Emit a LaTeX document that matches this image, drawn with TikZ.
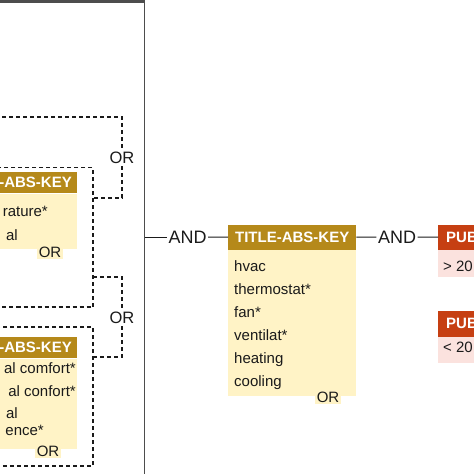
\documentclass[tikz,border=0pt]{standalone}
\usepackage{fontspec}
\setmainfont{Liberation Sans}
\usetikzlibrary{positioning}
\definecolor{ink}{HTML}{1A1A1A}
\definecolor{gold}{HTML}{B5891A}
\definecolor{cream}{HTML}{FFF3C6}
\definecolor{brick}{HTML}{C63F12}
\definecolor{blush}{HTML}{FBE2DE}
\definecolor{slate}{HTML}{4D4D4D}

\begin{document}
\begin{tikzpicture}[x=1pt, y=-1pt,
    every node/.style={inner sep=0pt, text=ink},
    item/.style={font=\fontsize{15}{18}\selectfont, anchor=base west},
    cut/.style={font=\fontsize{15}{18}\selectfont, anchor=base east},
    head/.style={fill=gold, text=white, font=\fontsize{15}{18}\selectfont\bfseries},
    pubhead/.style={fill=brick, text=white, font=\fontsize{15}{18}\selectfont\bfseries},
    kwbody/.style={fill=cream},
    pubbody/.style={fill=blush},
    andlabel/.style={font=\fontsize{18}{20}\selectfont, fill=white, inner xsep=1.5pt},
    orlabel/.style={font=\fontsize{16.5}{18}\selectfont, fill=white, inner sep=2pt},
    orbox/.style={font=\fontsize{15}{18}\selectfont, fill=cream, inner sep=2pt},
    dashline/.style={ink, line width=1.1pt, dash pattern=on 4pt off 3pt},
    link/.style={ink, line width=1pt},
    frame/.style={slate, line width=1.2pt}
  ]
    \useasboundingbox (0,0) rectangle (474,474);
    \clip (0,0) rectangle (474,474);

    % outer frame
    \draw[frame, line width=2.5pt] (0,1.25) -- (145.2,1.25);
    \draw[frame] (144.6,0) -- (144.6,474);
    \coordinate (spine) at (144.6,237);

    % left keyword boxes (cut off)
    \draw[dashline] (-5,167.5) rectangle (93,307);
    \node[head, anchor=north east, minimum width=140pt, minimum height=21pt,
          text width=130pt, align=right, inner xsep=5pt] (lhA) at (77,172) {-ABS-KEY};
    \node[kwbody, anchor=north east, minimum width=140pt, minimum height=55pt] (lbA) at (lhA.south east) {};
    \node[cut] at (48,216) {rature*};
    \node[cut] at (18,240) {al};
    \node[orbox] (orA) at (50,252) {OR};

    \draw[dashline] (-5,327) rectangle (93,466);
    \node[head, anchor=north east, minimum width=140pt, minimum height=21pt,
          text width=130pt, align=right, inner xsep=5pt] (lhB) at (77,337) {-ABS-KEY};
    \node[kwbody, anchor=north east, minimum width=140pt, minimum height=90pt] (lbB) at (lhB.south east) {};
    \node[cut] at (76,373) {al comfort*};
    \node[cut] at (76,396) {al confort*};
    \node[cut] at (18,418) {al};
    \node[cut] at (44,435) {ence*};
    \node[orbox] (orB) at (48,451) {OR};

    % OR brackets
    \coordinate (u1) at (-5,117);
    \coordinate (u2) at (93,198);
    \coordinate (l1) at (93,277);
    \coordinate (l2) at (93,357);
    \node[orlabel] (orU) at (122,158) {OR};
    \node[orlabel] (orL) at (122,318) {OR};
    \draw[dashline] (u1) -| (orU.north);
    \draw[dashline] (orU.south) |- (u2);
    \draw[dashline] (l1) -| (orL.north);
    \draw[dashline] (orL.south) |- (l2);

    % middle keyword box
    \node[andlabel] (andL) at (187.5,237) {AND};
    \node[head, anchor=north west, minimum width=128pt, minimum height=25pt] (kwhead) at (228,224.5) {TITLE-ABS-KEY};
    \node[kwbody, anchor=north west, minimum width=128pt, minimum height=146pt] (kwbody) at (kwhead.south west) {};
    \node[item] at (234,271) {hvac};
    \node[item] at (234,294) {thermostat*};
    \node[item] at (234,317) {fan*};
    \node[item] at (234,340) {ventilat*};
    \node[item] at (234,363) {heating};
    \node[item] at (234,386) {cooling};
    \node[orbox] (orC) at (328,397) {OR};

    % publication year boxes (cut off)
    \node[andlabel] (andR) at (397,237) {AND};
    \node[pubhead, anchor=north west, minimum width=50pt, minimum height=25pt,
          text width=34pt, align=left, inner xsep=8pt] (pubA) at (438,224.5) {PUB};
    \node[pubbody, anchor=north west, minimum width=50pt, minimum height=27pt] (pubAb) at (pubA.south west) {};
    \node[item] at (443,271) {> 20};
    \node[pubhead, anchor=north west, minimum width=50pt, minimum height=26pt,
          text width=34pt, align=left, inner xsep=8pt] (pubB) at (438,310.5) {PUB};
    \node[pubbody, anchor=north west, minimum width=50pt, minimum height=26pt] (pubBb) at (pubB.south west) {};
    \node[item] at (443,352) {< 20};

    % connectors
    \draw[link] (spine) -- (andL.west);
    \draw[link] (andL.east) -- (kwhead.west);
    \draw[link] (kwhead.east) -- (andR.west);
    \draw[link] (andR.east) -- (pubA.west);
  \end{tikzpicture}
\end{document}
